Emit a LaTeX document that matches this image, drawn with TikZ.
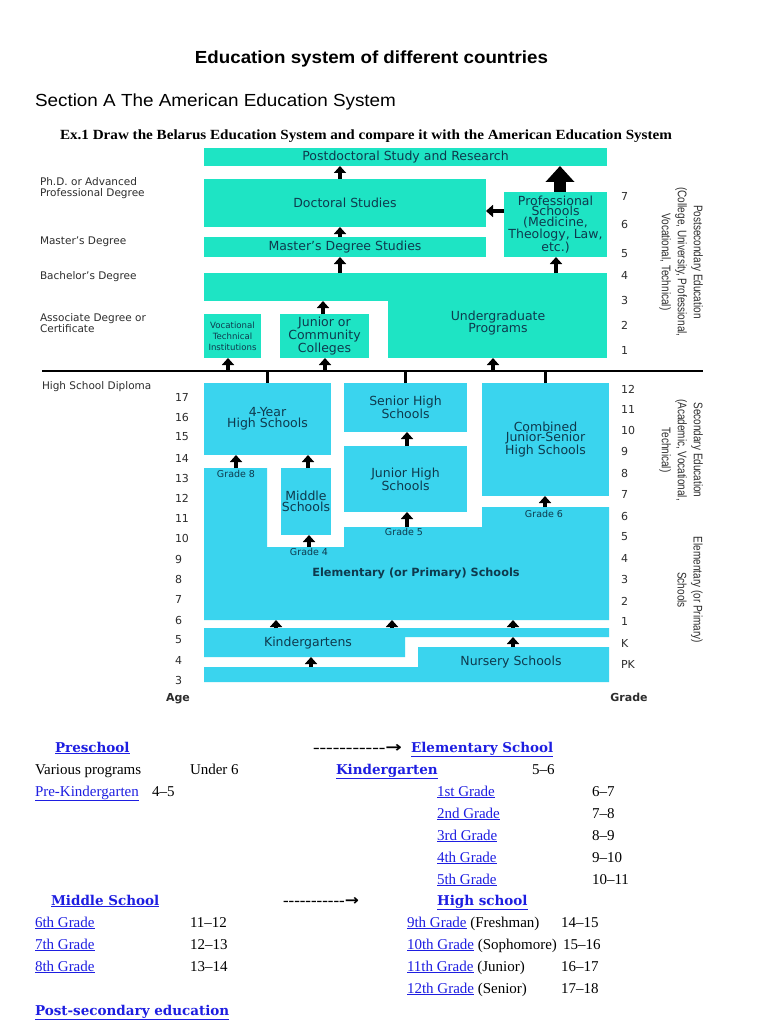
\documentclass[tikz,border=0pt]{standalone}
\usepackage{fontspec}
\usepackage{graphicx}
\setmainfont{Liberation Serif}
\newfontfamily\chartfont{DejaVu Sans}
\newfontfamily\condfont[FakeStretch=0.8]{Liberation Sans}
\newfontfamily\headfont{DejaVu Serif}
\newfontfamily\titlefont{Liberation Sans}
\usetikzlibrary{arrows.meta}
\definecolor{tealbox}{RGB}{30,228,196}
\definecolor{cyanbox}{RGB}{58,212,238}
\definecolor{boxtext}{RGB}{14,58,78}
\definecolor{lbltext}{RGB}{45,45,45}
\definecolor{linkblue}{RGB}{30,30,225}
\newcommand{\fitw}[2]{\resizebox{#1}{\height}{#2}}
\newcommand{\lnk}[1]{{\color{linkblue}\underline{#1}}}
\newcommand{\hy}{\hbox{-}}
\tikzset{
  tb/.style={fill=tealbox, anchor=north west, align=center, text=boxtext, font=\chartfont\fontsize{12.5}{10.8}\selectfont},
  cb/.style={fill=cyanbox, anchor=north west, align=center, text=boxtext, font=\chartfont\fontsize{12.5}{10.8}\selectfont},
  boxlbl/.style={align=center, text=boxtext, font=\chartfont\fontsize{12.5}{10.8}\selectfont},
  gradelbl/.style={text=boxtext, font=\chartfont\fontsize{9.5}{10}\selectfont},
  leftlbl/.style={anchor=west, align=left, text=lbltext, font=\chartfont\fontsize{10.5}{11}\selectfont},
  num/.style={anchor=west, text=lbltext, font=\chartfont\fontsize{11}{12}\selectfont},
  sidelbl/.style={rotate=-90, align=center, text=lbltext, font=\condfont\fontsize{12.5}{16}\selectfont},
  uparr/.style={-{Triangle[width=12pt,length=7pt]}, line width=4pt, black},
  bigarr/.style={-{Triangle[width=28pt,length=16pt]}, line width=12pt, black},
  tickline/.style={line width=2.5pt, black},
  btxt/.style={anchor=base west, yshift=-5pt, text=black, font=\fontsize{15}{17}\selectfont},
  bhead/.style={anchor=base west, yshift=-5pt, text=linkblue, font=\headfont\bfseries\fontsize{13.5}{15}\selectfont},
}
\begin{document}
\begin{tikzpicture}[x=1pt,y=-1pt,every node/.style={inner sep=0pt,outer sep=0pt}]
\useasboundingbox[fill=white] (0,0) rectangle (768,1024);

% ---------- titles
\node[text=black,font=\titlefont\bfseries\fontsize{17.5}{20}\selectfont] (title) at (371.5,59) {\fitw{353pt}{Education system of different countries}};
\node[anchor=west,text=black,font=\titlefont\fontsize{17.5}{20}\selectfont] (section) at (35,102) {\fitw{361pt}{Section A The American Education System}};
\node[anchor=west,text=black,font=\bfseries\fontsize{14}{16}\selectfont] (ex1) at (60,136) {\fitw{612pt}{Ex.1 Draw the Belarus Education System and compare it with the American Education System}};

% ---------- postsecondary
\node[tb,minimum width=403pt,minimum height=18pt] (postdoc) at (204,148) {Postdoctoral Study and Research};
\node[tb,minimum width=282pt,minimum height=48pt] (doct) at (204,179) {Doctoral Studies};
\node[tb,minimum width=282pt,minimum height=20pt] (mast) at (204,237) {Master’s Degree Studies};
\node[tb,minimum width=103pt,minimum height=65pt] (prof) at (504,192) {Professional\\Schools\\(Medicine,\\Theology, Law,\\etc.)};
\node[tb,minimum width=403pt,minimum height=28pt] (ugband) at (204,273) {};
\node[tb,minimum width=219pt,minimum height=85pt] (ugmain) at (388,273) {};
\node[boxlbl] (uglbl) at (498,323) {Undergraduate\\Programs};
\node[tb,minimum width=57pt,minimum height=44pt,font=\chartfont\fontsize{8.6}{10.8}\selectfont] (voc) at (204,314) {Vocational\\Technical\\Institutions};
\node[tb,minimum width=89pt,minimum height=44pt] (jcc) at (280,314) {Junior or\\Community\\Colleges};

% ---------- diploma line
\coordinate (lineL) at (42,371);
\coordinate (lineR) at (703,371);
\draw[tickline] (lineL) -- (lineR);

% ---------- secondary
\node[cb,minimum width=127pt,minimum height=72pt] (hs4) at (204,383) {4-Year\\High Schools};
\node[cb,minimum width=123pt,minimum height=49pt] (senior) at (344,383) {Senior High\\Schools};
\node[cb,minimum width=123pt,minimum height=66pt] (jhs) at (344,446) {Junior High\\Schools};
\node[cb,minimum width=127pt,minimum height=113pt] (comb) at (482,383) {Combined\\Junior-Senior\\High Schools};
\node[cb,minimum width=50pt,minimum height=67pt] (mid) at (281,468) {Middle\\Schools};

% ---------- elementary
\fill[cyanbox] (204,468) -- (267,468) -- (267,547) -- (344,547) -- (344,527) -- (482,527) -- (482,507) -- (609,507) -- (609,620) -- (204,620) -- cycle;
\node[boxlbl,font=\chartfont\bfseries\fontsize{11.3}{12}\selectfont] (elem) at (416,573) {Elementary (or Primary) Schools};

% ---------- kindergarten and nursery
\fill[cyanbox] (204,628) -- (609,628) -- (609,637) -- (405,637) -- (405,657) -- (204,657) -- cycle;
\node[boxlbl] (kind) at (308,643) {Kindergartens};
\fill[cyanbox] (418,647) -- (609,647) -- (609,682) -- (204,682) -- (204,667) -- (418,667) -- cycle;
\node[boxlbl] (nurs) at (511,662) {Nursery Schools};

% ---------- grade labels
\node[gradelbl] (g8lbl) at (236,474) {Grade 8};
\node[gradelbl] (g4lbl) at (309,552) {Grade 4};
\node[gradelbl] (g5lbl) at (404,532) {Grade 5};
\node[gradelbl] (g6lbl) at (544,514) {Grade 6};

% ---------- arrow columns
\coordinate (ax1) at (340,0);
\coordinate (ax2) at (323,0);
\coordinate (ax3) at (560,0);
\coordinate (ax4) at (556,0);
\coordinate (ax5) at (228,0);
\coordinate (ax6) at (325,0);
\coordinate (ax7) at (493,0);
\coordinate (ax8) at (308,0);
\coordinate (ay1) at (0,211);

\draw[uparr] (doct.north -| ax1) -- (postdoc.south -| ax1);
\draw[uparr] (mast.north -| ax1) -- (doct.south -| ax1);
\draw[uparr] (ugband.north -| ax1) -- (mast.south -| ax1);
\draw[uparr] (jcc.north -| ax2) -- (ugband.south -| ax2);
\draw[bigarr] (prof.north -| ax3) -- (postdoc.south -| ax3);
\draw[uparr] (prof.west |- ay1) -- (doct.east |- ay1);
\draw[uparr] (ugband.north -| ax4) -- (prof.south -| ax4);
\draw[uparr] (lineL -| ax5) -- (voc.south -| ax5);
\draw[uparr] (lineL -| ax6) -- (jcc.south -| ax6);
\draw[uparr] (lineL -| ax7) -- (ugmain.south -| ax7);
\draw[tickline] (lineL -| hs4.north) -- (hs4.north);
\draw[tickline] (lineL -| senior.north) -- (senior.north);
\draw[tickline] (lineL -| comb.north) -- (comb.north);

\coordinate (g8) at (236,468);
\coordinate (g4) at (309,547);
\coordinate (g5) at (407,527);
\coordinate (g6) at (545,507);
\draw[uparr] (g8) -- (hs4.south -| g8);
\draw[uparr] (mid.north -| ax8) -- (hs4.south -| ax8);
\draw[uparr] (g4) -- (mid.south -| g4);
\draw[uparr] (g5) -- (jhs.south -| g5);
\draw[uparr] (jhs.north -| g5) -- (senior.south -| g5);
\draw[uparr] (g6) -- (comb.south -| g6);

\coordinate (ebot) at (0,620);
\coordinate (kbot) at (0,657);
\coordinate (kband) at (0,637);
\coordinate (k1) at (276,628);
\coordinate (k2) at (392,628);
\coordinate (k3) at (513,628);
\coordinate (n1) at (311,667);
\coordinate (n2) at (513,647);
\draw[uparr] (k1) -- (ebot -| k1);
\draw[uparr] (k2) -- (ebot -| k2);
\draw[uparr] (k3) -- (ebot -| k3);
\draw[uparr] (n1) -- (kbot -| n1);
\draw[uparr] (n2) -- (kband -| n2);

% ---------- left labels
\node[leftlbl] (phd) at (40,188) {Ph.D. or Advanced\\Professional Degree};
\node[leftlbl] (masterd) at (40,242) {Master’s Degree};
\node[leftlbl] (bach) at (40,277) {Bachelor’s Degree};
\node[leftlbl] (assoc) at (40,323) {Associate Degree or\\Certificate};
\node[leftlbl] (hsd) at (42,387) {High School Diploma};

% ---------- ages
\foreach \a/\yy in {17/397,16/417,15/437,14/458,13/478,12/498,11/518,10/538,9/559,8/579,7/599,6/620,5/640,4/660,3/680}
  \node[num] (age\a) at (175,\yy) {\a};
\node[font=\chartfont\bfseries\fontsize{11}{12}\selectfont,text=lbltext] (agelbl) at (178,699) {Age};

% ---------- grades
\foreach \g/\yy in {7/196,6/224,5/254,4/275,3/300,2/325,1/350}
  \node[num] (pg\g) at (621,\yy) {\g};
\foreach \g/\yy in {12/389,11/409,10/430,9/451,8/473,7/494,6/516,5/537,4/558,3/579,2/601,1/621,K/643,PK/664}
  \node[num] (gr\g) at (621,\yy) {\g};
\node[font=\chartfont\bfseries\fontsize{11}{12}\selectfont,text=lbltext] (gradelbl) at (629,697) {Grade};

% ---------- side labels
\node[sidelbl] (postsec) at (681,262) {Postsecondary Education\\(College, University, Professional,\\Vocational, Technical)};
\node[sidelbl] (secedu) at (681,450) {Secondary Education\\(Academic, Vocational,\\Technical)};
\node[sidelbl] (elemedu) at (690,590) {Elementary (or Primary)\\Schools};

% ---------- bottom text
\node[bhead] (preschool) at (55,747) {\lnk{Preschool}};
\node[btxt,font=\bfseries\fontsize{15}{17}\selectfont] (dash1) at (313,747) {\fitw{89pt}{\hy\hy\hy\hy\hy\hy\hy\hy\hy\hy\hy{\chartfont →}}};
\node[bhead] (elemschool) at (411,747) {\lnk{Elementary School}};

\node[btxt] (various) at (35,769) {Various programs};
\node[btxt] (under6) at (190,769) {Under 6};
\node[bhead] (kgarten) at (336,769) {\lnk{Kindergarten}};
\node[btxt] (kage) at (532,769) {5–6};

\node[btxt] (prek) at (35,791) {\lnk{Pre-Kindergarten}};
\node[btxt] (prekage) at (152,791) {4–5};

\foreach \n/\gname/\gage/\yy in {1/1st/6–7/791,2/2nd/7–8/813,3/3rd/8–9/835,4/4th/9–10/857,5/5th/10–11/879}{
  \node[btxt] (eg\n) at (437,\yy) {\lnk{\gname\ Grade}};
  \node[btxt] (ega\n) at (592,\yy) {\gage};
}

\node[bhead] (middleschool) at (51,900) {\lnk{Middle School}};
\node[btxt,font=\bfseries\fontsize{15}{17}\selectfont] (dash2) at (283,900) {\fitw{76pt}{\hy\hy\hy\hy\hy\hy\hy\hy\hy\hy\hy{\chartfont →}}};
\node[bhead] (highschool) at (437,900) {\lnk{High school}};

\foreach \n/\gname/\gage/\yy in {6/6th/11–12/922,7/7th/12–13/944,8/8th/13–14/966}{
  \node[btxt] (mg\n) at (35,\yy) {\lnk{\gname\ Grade}};
  \node[btxt] (mga\n) at (190,\yy) {\gage};
}

\node[btxt] (hg9) at (407,922) {\lnk{9th Grade} (Freshman)};
\node[btxt] (hga9) at (561,922) {14–15};
\node[btxt] (hg10) at (407,944) {\lnk{10th Grade} (Sophomore)};
\node[btxt] (hga10) at (563,944) {15–16};
\node[btxt] (hg11) at (407,966) {\lnk{11th Grade} (Junior)};
\node[btxt] (hga11) at (561,966) {16–17};
\node[btxt] (hg12) at (407,988) {\lnk{12th Grade} (Senior)};
\node[btxt] (hga12) at (561,988) {17–18};

\node[bhead] (postsecedu) at (35,1010) {\lnk{Post-secondary education}};
\end{tikzpicture}
\end{document}
